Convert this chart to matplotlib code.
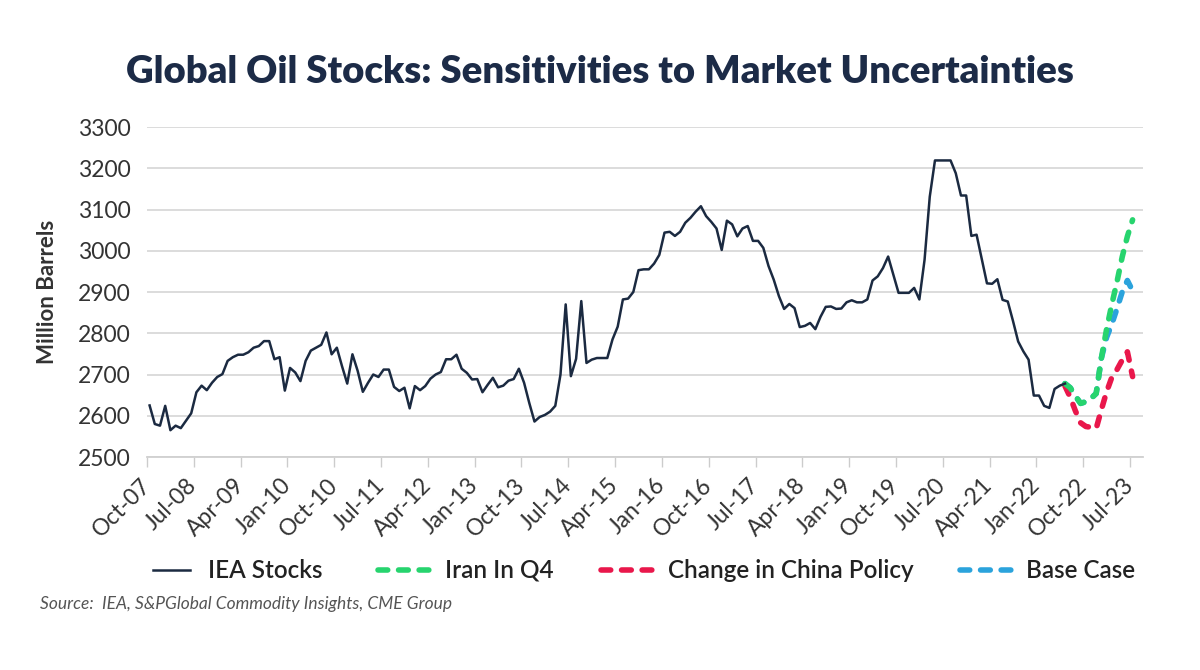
import matplotlib
matplotlib.use("Agg")
import matplotlib.pyplot as plt
from matplotlib.lines import Line2D
import numpy as np

# ---- Data ----
tick_labels = ["Oct-07", "Jul-08", "Apr-09", "Jan-10", "Oct-10", "Jul-11", "Apr-12",
               "Jan-13", "Oct-13", "Jul-14", "Apr-15", "Jan-16", "Oct-16", "Jul-17",
               "Apr-18", "Jan-19", "Oct-19", "Jul-20", "Apr-21", "Jan-22", "Oct-22", "Jul-23"]

# Monthly IEA stocks (million barrels), Oct-07 .. Jun-22
iea_stocks = [
    2625, 2580, 2576, 2624, 2565, 2576, 2570, 2588, 2606, 2657,
    2673, 2662, 2680, 2694, 2701, 2733, 2742, 2748, 2748, 2754,
    2765, 2769, 2781, 2781, 2737, 2742, 2661, 2716, 2705, 2684,
    2733, 2758, 2765, 2772, 2802, 2749, 2765, 2720, 2678, 2749,
    2709, 2658, 2680, 2700, 2694, 2712, 2712, 2670, 2660, 2668,
    2618, 2672, 2662, 2672, 2690, 2700, 2706, 2737, 2737, 2748,
    2714, 2704, 2688, 2689, 2657, 2675, 2692, 2669, 2673, 2685,
    2689, 2714, 2680, 2631, 2586, 2597, 2602, 2610, 2624, 2700,
    2870, 2696, 2738, 2878, 2728, 2736, 2740, 2740, 2740, 2785,
    2816, 2882, 2884, 2900, 2953, 2955, 2955, 2969, 2990, 3044,
    3046, 3036, 3046, 3068, 3080, 3095, 3108, 3084, 3070, 3054,
    3002, 3073, 3064, 3035, 3054, 3060, 3024, 3024, 3007, 2963,
    2930, 2890, 2859, 2871, 2861, 2815, 2818, 2825, 2810, 2840,
    2864, 2865, 2859, 2860, 2875, 2880, 2875, 2875, 2882, 2928,
    2938, 2958, 2986, 2942, 2898, 2898, 2898, 2910, 2882, 2978,
    3131, 3219, 3219, 3219, 3219, 3188, 3134, 3134, 3036, 3039,
    2980, 2921, 2920, 2931, 2881, 2877, 2830, 2780, 2756, 2736,
    2649, 2649, 2624, 2619, 2665, 2673, 2678,
]

# Scenario forecasts, Jun-22 .. Jul-23
iran_q4 = [2678, 2668, 2648, 2630, 2634, 2642, 2654, 2740, 2810, 2870, 2925, 2985, 3035, 3075]
china_policy = [2672, 2645, 2612, 2583, 2574, 2572, 2569, 2615, 2658, 2693, 2712, 2735, 2755, 2695]
base_case = [2678, 2668, 2648, 2630, 2634, 2642, 2654, 2740, 2790, 2822, 2860, 2900, 2928, 2903]

series_labels = ["IEA Stocks", "Iran In Q4", "Change in China Policy", "Base Case"]

# ---- Style ----
NAVY = "#1b2a41"
GREEN = "#27d46e"
RED = "#e9174b"
BLUE = "#2ba3dc"
TXT = "#333333"
FONT = ["Lato", "DejaVu Sans"]

plt.rcParams["font.family"] = FONT

fig = plt.figure(figsize=(12, 6.7), dpi=100)
ax = fig.add_axes([0.1225, 0.3179, 0.830, 0.4925])

x_hist = np.arange(len(iea_stocks)) + 0.5
start_fc = len(iea_stocks) - 1
x_fc = np.arange(start_fc, start_fc + len(iran_q4)) + 0.5

ax.plot(x_hist, iea_stocks, color=NAVY, lw=1.8, zorder=5, solid_joinstyle="round")

dash_kw = dict(lw=4.0, dash_capstyle="round", zorder=4)
l_base, = ax.plot(x_fc, base_case, color=BLUE, **dash_kw)
l_china, = ax.plot(x_fc, china_policy, color=RED, **dash_kw)
l_iran, = ax.plot(x_fc, iran_q4, color=GREEN, **dash_kw)
for l in (l_base, l_china, l_iran):
    l.set_dashes((1.6, 2.0))

ax.set_ylim(2500, 3300)
ax.set_xlim(0, 191.5)
ax.set_yticks(np.arange(2500, 3301, 100))
ax.set_xticks(np.arange(len(tick_labels)) * 9)
ax.set_xticklabels(tick_labels, rotation=45, ha="right", va="center",
                   rotation_mode="anchor", fontsize=16.5, color=TXT)
ax.tick_params(axis="x", length=7, width=1, color="#cccccc", pad=11)
ax.tick_params(axis="y", length=0, pad=12, labelsize=16.5, labelcolor=TXT)
ax.grid(axis="y", color="#d9d9d9", lw=1.3)
ax.set_axisbelow(True)
for s in ("top", "right", "left"):
    ax.spines[s].set_visible(False)
ax.spines["bottom"].set_color("#d0d0d0")
ax.spines["bottom"].set_linewidth(1.3)

ax.set_ylabel("Million Barrels", fontsize=16, color=TXT, fontweight="bold", labelpad=14)

fig.text(0.5, 0.893, "Global Oil Stocks: Sensitivities to Market Uncertainties",
         ha="center", va="center", fontsize=27.5, fontweight="heavy", color="#1c2b47")

# ---- Legend (manual placement) ----
ly = 1 - 570 / 670
items = [
    (153, 190, 208, NAVY, False),
    (378, 434, 445, GREEN, True),
    (601, 656, 668, RED, True),
    (960, 1014, 1026, BLUE, True),
]
for (x0, x1, xt, col, dashed), lab in zip(items, series_labels):
    if dashed:
        ln = Line2D([x0 / 1200, x1 / 1200], [ly, ly], transform=fig.transFigure,
                    color=col, lw=4.0, dash_capstyle="round")
        ln.set_dashes((1.75, 1.95))
    else:
        ln = Line2D([x0 / 1200, x1 / 1200], [ly, ly], transform=fig.transFigure,
                    color=col, lw=1.8)
    fig.add_artist(ln)
    fig.text(xt / 1200, ly, lab, ha="left", va="center", fontsize=17.5,
             fontweight="semibold", color="#222222")

fig.text(40 / 1200, 1 - 604 / 670, "Source:  IEA, S&PGlobal Commodity Insights, CME Group",
         ha="left", va="center", fontsize=12.5, style="italic", color="#555555")

fig.savefig("out.png", dpi=100, facecolor="white")
